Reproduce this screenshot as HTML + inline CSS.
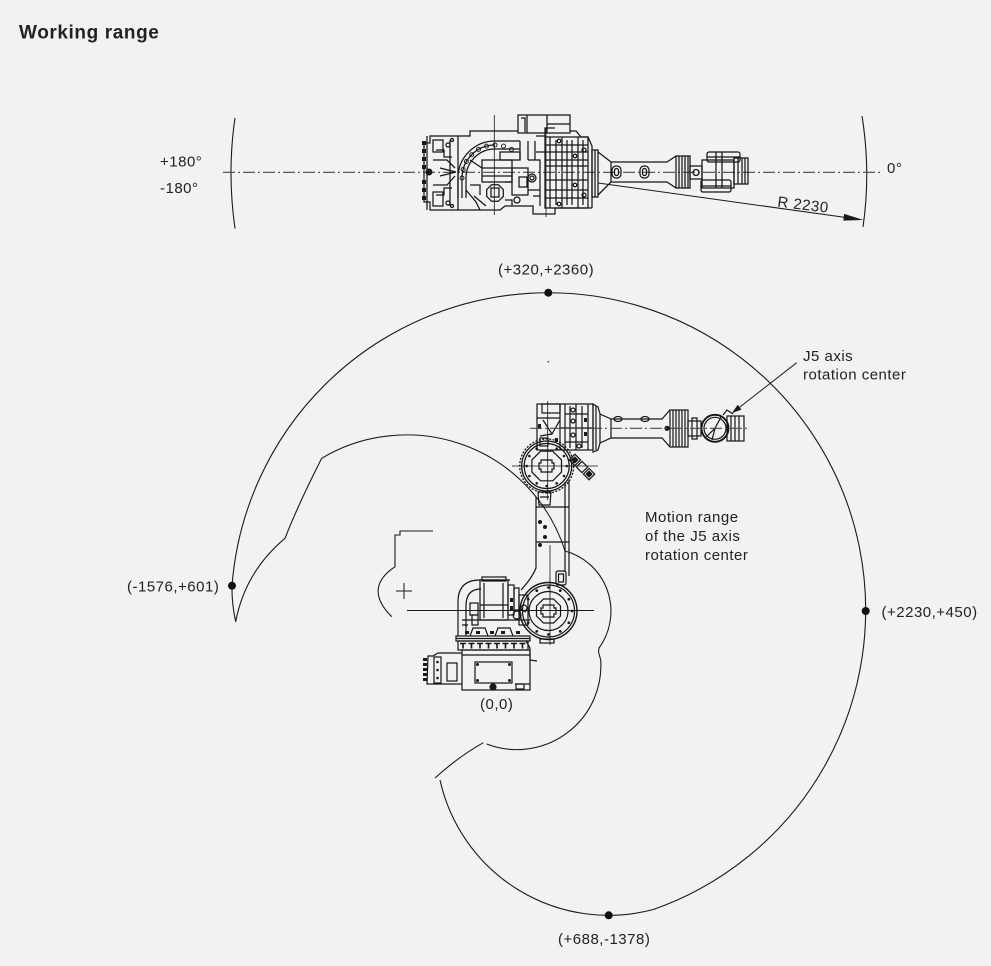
<!DOCTYPE html>
<html>
<head>
<meta charset="utf-8">
<style>
html,body{margin:0;padding:0;background:#f2f2f2;}
svg{display:block;}
text{font-family:"Liberation Sans",sans-serif;fill:#222;}
.lbl{font-size:15px;letter-spacing:0.5px;}
</style>
</head>
<body>
<svg width="991" height="966" viewBox="0 0 991 966" xmlns="http://www.w3.org/2000/svg">
<rect x="0" y="0" width="991" height="966" fill="#f2f2f2"/>

<!-- Title -->
<text x="19" y="38.5" font-size="19" font-weight="bold" letter-spacing="0.6" fill="#0d0d0d">Working range</text>

<!-- ============ TOP VIEW ============ -->
<g stroke="#1a1a1a" fill="none" stroke-width="1.1">
  <path d="M235 118 Q227 172.3 235 228.5"/>
  <path d="M862 116 Q871 172 863 227"/>
</g>
<line x1="223" y1="172.3" x2="882" y2="172.3" stroke="#4a4a4a" stroke-width="1.2" stroke-dasharray="12 3 2 3"/>

<g stroke="#151515" fill="none" stroke-width="1.25">
  <!-- left base block -->
  <path d="M430 136 L458 136 L458 210 L430 210 L430 202 L424 202 L424 143 L430 143 Z"/>
  <g fill="#1a1a1a" stroke="none">
    <rect x="422" y="141" width="4" height="4"/><rect x="422" y="149" width="4" height="4"/>
    <rect x="422" y="157" width="4" height="4"/><rect x="422" y="165" width="4" height="4"/>
    <rect x="422" y="180" width="4" height="4"/><rect x="422" y="188" width="4" height="4"/>
    <rect x="422" y="196" width="4" height="4"/>
    <circle cx="429" cy="172" r="3.5"/>
  </g>
  <rect x="433" y="140" width="10" height="12"/>
  <rect x="433" y="192" width="10" height="14"/>
  <path d="M433 160 L447 160 L455 168 M436 150 L444 150 L444 157 L452 157 M433 185 L447 185 L455 176 M440 176 L456 172 M440 168 L456 172 M436 195 L444 195 L444 188 L452 188 M427 136 L427 210 M450 140 L450 206"/>
  <circle cx="448" cy="145" r="2"/><circle cx="448" cy="203" r="2"/><circle cx="452" cy="140" r="1.5"/><circle cx="452" cy="206" r="1.5"/>

  <!-- arch -->
  <path d="M458 198 L458 178 A37 37 0 0 1 495 141 L520 141"/>
  <path d="M466 198 L466 178 A29 29 0 0 1 495 149 L520 149"/>
  <path d="M462 198 L462 178 A33 33 0 0 1 495 145"/>
  <path d="M466 190 L476 202 L480 210 M470 160 L482 168 M474 196 L486 206 M470 185 L480 185 L480 195"/>
  <g stroke-width="0.9">
    <circle cx="462" cy="178" r="2"/><circle cx="463.1" cy="169.5" r="2"/><circle cx="466.4" cy="161.5" r="2"/>
    <circle cx="471.7" cy="154.7" r="2"/><circle cx="478.5" cy="149.4" r="2"/><circle cx="486.5" cy="146.1" r="2"/>
    <circle cx="495" cy="145" r="2"/><circle cx="503.5" cy="146.1" r="2"/><circle cx="511.5" cy="149.4" r="2"/>
  </g>

  <!-- centre blocks -->
  <rect x="482" y="160" width="30" height="22"/>
  <line x1="482" y1="168" x2="512" y2="168"/>
  <line x1="482" y1="176" x2="512" y2="176"/>
  <polygon points="503.3,196.4 498.4,201.3 491.6,201.3 486.7,196.4 486.7,189.6 491.6,184.7 498.4,184.7 503.3,189.6"/>
  <rect x="491" y="188" width="8" height="9"/>
  <rect x="500" y="152" width="20" height="8"/>
  <rect x="512" y="168" width="16" height="27"/>
  <rect x="519" y="177" width="8" height="10"/>
  <circle cx="532" cy="178" r="4"/><circle cx="532" cy="178" r="2"/>
  <circle cx="517" cy="200" r="3"/>
  <path d="M505 182 L512 182 M505 200 L512 200 L512 206 M528 160 L540 160 L540 206 M528 190 L540 190 M533 196 L540 196 M520 141 L520 160 M528 141 L528 160 M535 141 L535 160"/>
  <!-- motor on top -->
  <rect x="518" y="115" width="52" height="18"/>
  <path d="M527 115 L527 133 M547 115 L547 133 M521 118 L525 118 L525 132 M547 124 L570 124"/>
  <!-- body outline -->
  <path d="M458 136 L470 136 L470 131 L518 131 M570 131 L576 131 L581 137 L588 137 L592 146 L592 208"/>
  <path d="M458 210 L500 210 L505 206 L533 206 L533 214 L555 214 L555 208 L592 208"/>
  <!-- right section -->
  <rect x="545" y="137" width="43" height="71"/>
  <path d="M550 137 L550 208 M556 140 L556 205 M562 137 L562 208 M567 140 L567 205 M572 140 L572 205 M578 137 L578 208 M583 140 L583 205"/>
  <path d="M545 145 L588 145 M545 152 L588 152 M545 160 L588 160 M545 166 L588 166 M545 180 L588 180 M545 190 L588 190 M545 198 L588 198"/>
  <circle cx="584" cy="150" r="2"/><circle cx="584" cy="195" r="2"/><circle cx="559" cy="141" r="1.8"/><circle cx="559" cy="204" r="1.8"/>
  <circle cx="575" cy="185" r="1.8"/><circle cx="575" cy="156" r="1.8"/>
  <path d="M536 152 L545 152 M536 136 L545 136 L545 128 L555 128"/>
  <!-- axis lines -->
  <line x1="494.3" y1="115" x2="494.3" y2="215" stroke-width="0.8"/>
  <line x1="546" y1="128" x2="546" y2="217" stroke-width="0.8"/>
  <!-- flange -->
  <rect x="592" y="150" width="6" height="47"/>
  <line x1="595" y1="150" x2="595" y2="197"/>
  <!-- forearm tube -->
  <path d="M598 152 L611 162 L667 162 L676 156 M598 195 L611 182 L667 182 L676 188 M611 162 L611 182"/>
  <rect x="612" y="166" width="9" height="12" rx="4"/><rect x="614.5" y="168.5" width="4" height="7" rx="2"/>
  <rect x="640" y="166" width="9" height="12" rx="4"/><rect x="642.5" y="168.5" width="4" height="7" rx="2"/>
  <rect x="676" y="156" width="14" height="32"/>
  <path d="M679 156 L679 188 M682 156 L682 188 M685 156 L685 188 M688 156 L688 188"/>
  <rect x="690" y="166" width="12" height="13"/>
  <circle cx="696" cy="172.5" r="3"/>
  <!-- wrist -->
  <rect x="702" y="160" width="32" height="28"/>
  <rect x="707" y="152" width="33" height="10" rx="2"/>
  <path d="M716 152 L716 188 M722 152 L722 188 M707 157 L740 157"/>
  <rect x="701" y="180" width="30" height="12" rx="2"/>
  <path d="M701 186 L731 186"/>
  <rect x="734" y="158" width="14" height="26"/>
  <path d="M738 158 L738 184 M742 158 L742 184 M745 158 L745 184"/>
</g>

<!-- R 2230 -->
<line x1="598" y1="183" x2="846" y2="217.5" stroke="#1a1a1a" stroke-width="1"/>
<polygon points="863.5,220 843.3,220.6 844.1,213.9" fill="#1a1a1a"/>
<text class="lbl" x="777" y="206.5" transform="rotate(7 777 206.5)">R 2230</text>

<text class="lbl" x="160" y="166.5">+180°</text>
<text class="lbl" x="160" y="193">-180°</text>
<text class="lbl" x="887" y="173">0°</text>

<!-- ============ SIDE VIEW ============ -->
<g stroke="#1a1a1a" fill="none" stroke-width="1.1">
  <path d="M235.7 621.7 Q231.6 603 232 585.7 A317.3 317.3 0 1 1 653.3 909.5 A172.8 172.8 0 0 1 440 780"/>
  <path d="M235.7 621.7 Q245 572 285 538.3 Q298 505 321.7 458.3 A166 166 0 0 1 565 551 A62.5 62.5 0 0 1 599 648 L598.5 652 L600.7 660 A84 84 0 0 1 486.7 744"/>
  <path d="M483.3 742.7 Q458 757 435 778"/>
  <path d="M433 531 L400 531 L400 535 L395 535 L395 566.7 Q363 588 391.7 616.7"/>
</g>
<g stroke="#1a1a1a" stroke-width="1">
  <path d="M396 591 L412 591 M404 583 L404 599"/>
  <path d="M407 610.5 L594 610.5"/>
</g>
<circle cx="548.3" cy="361.7" r="0.8" fill="#333"/>

<!-- Robot side view -->
<g stroke="#151515" fill="none" stroke-width="1.2">
  <!-- base -->
  <rect x="456" y="636" width="74" height="5"/>
  <line x1="456" y1="638.5" x2="530" y2="638.5"/>
  <rect x="458" y="641" width="70" height="9"/>
  <g stroke-width="1.6">
    <path d="M460 643.5 h6 M463 643.5 v5 M468.5 643.5 h6 M471.5 643.5 v5 M477 643.5 h6 M480 643.5 v5 M485.5 643.5 h6 M488.5 643.5 v5 M494 643.5 h6 M497 643.5 v5 M502.5 643.5 h6 M505.5 643.5 v5 M511 643.5 h6 M514 643.5 v5 M519.5 643.5 h6 M522.5 643.5 v5"/>
  </g>
  <rect x="462" y="650" width="68" height="40"/>
  <line x1="462" y1="655" x2="530" y2="655"/>
  <rect x="475" y="662" width="37" height="21"/>
  <g fill="#1a1a1a" stroke="none">
    <circle cx="477.5" cy="664.5" r="1.5"/><circle cx="509.5" cy="664.5" r="1.5"/>
    <circle cx="477.5" cy="680.5" r="1.5"/><circle cx="509.5" cy="680.5" r="1.5"/>
    <circle cx="437.5" cy="662" r="1.3"/><circle cx="437.5" cy="670" r="1.3"/><circle cx="437.5" cy="678" r="1.3"/>
    <rect x="423" y="658" width="4" height="3"/><rect x="423" y="663" width="4" height="3"/>
    <rect x="423" y="668" width="4" height="3"/><rect x="423" y="673" width="4" height="3"/>
    <rect x="423" y="678" width="4" height="3"/>
    <circle cx="493" cy="687" r="3.6"/>
  </g>
  <path d="M462 653 L438 653 L433 656 L428 656 L427 684 L462 684"/>
  <rect x="434" y="657" width="7" height="26"/>
  <rect x="447" y="663" width="10" height="18"/>
  <path d="M526 641 L530 648 L530 660 L537 661"/>
  <path d="M515 684 L530 684"/>
  <rect x="516" y="684" width="8" height="5"/>

  <!-- turret / motor -->
  <path d="M458 636 L458 602 Q458 580 480 580 L510 580"/>
  <path d="M466 636 L466 606 Q466 589 481 589"/>
  <rect x="480" y="580" width="28" height="40"/>
  <path d="M484 583 L484 618 M503 583 L503 618 M480 605 L508 605"/>
  <rect x="482" y="577" width="24" height="4"/>
  <rect x="508" y="585" width="6" height="30"/>
  <rect x="514" y="588" width="5" height="22"/>
  <circle cx="517" cy="615" r="4"/>
  <rect x="470" y="603" width="8" height="12"/>
  <rect x="472" y="615" width="6" height="10"/>
  <path d="M462 620 L530 620 M470 636 L473 628 L485 628 L488 636 M495 636 L498 628 L510 628 L513 636 M462 625 L468 625"/>
  <g fill="#1a1a1a" stroke="none">
    <rect x="465" y="631" width="4" height="3"/><rect x="476" y="631" width="4" height="3"/>
    <rect x="490" y="631" width="4" height="3"/><rect x="501" y="631" width="4" height="3"/>
    <rect x="516" y="631" width="4" height="3"/>
    <rect x="510" y="598" width="3" height="4"/><rect x="510" y="606" width="3" height="4"/>
  </g>
  <rect x="519" y="595" width="9" height="30"/>
  <circle cx="524" cy="608" r="3"/>

  <!-- J2 housing -->
  <circle cx="548.5" cy="611" r="28.5" stroke-width="1.4"/>
  <circle cx="548.5" cy="611" r="26"/>
  <circle cx="548.5" cy="611" r="19.5"/>
  <polygon points="560.5,616 553.5,623 543.5,623 536.5,616 536.5,606 543.5,599 553.5,599 560.5,606"/>
  <path d="M543 605 h11 v3 h2 v6 h-2 v3 h-11 v-3 h-2 v-6 h2 z"/>
  <g fill="#1a1a1a" stroke="none">
    <circle cx="572" cy="611" r="1.4"/><circle cx="568.85" cy="622.75" r="1.4"/><circle cx="560.25" cy="631.35" r="1.4"/>
    <circle cx="548.5" cy="634.5" r="1.4"/><circle cx="536.75" cy="631.35" r="1.4"/><circle cx="528.15" cy="622.75" r="1.4"/>
    <circle cx="525" cy="611" r="1.4"/><circle cx="528.15" cy="599.25" r="1.4"/><circle cx="536.75" cy="590.65" r="1.4"/>
    <circle cx="548.5" cy="587.5" r="1.4"/><circle cx="560.25" cy="590.65" r="1.4"/><circle cx="568.85" cy="599.25" r="1.4"/>
  </g>
  <rect x="556" y="571" width="10" height="14" rx="2"/>
  <rect x="558.5" y="574" width="5" height="8"/>
  <rect x="540" y="639" width="14" height="4"/>

  <!-- upper arm -->
  <path d="M536 497 L536 568 Q532 578 521 590"/>
  <path d="M569 480 L569 576 M565 482 L565 572"/>
  <path d="M536 507 L569 507 M536 542 L569 542"/>
  <g fill="#1a1a1a" stroke="none">
    <circle cx="540" cy="522" r="2"/><circle cx="545" cy="527" r="2"/>
    <circle cx="545" cy="537" r="2"/><circle cx="540" cy="545" r="2"/>
  </g>
  <line x1="550" y1="545" x2="550" y2="645" stroke-width="0.8"/>
  <path d="M538 492 L551 492 L550 505 L539 505 Z M540 497 L549 497"/>

  <!-- J3 housing -->
  <circle cx="546.7" cy="466" r="27" stroke-dasharray="2 1.5" stroke-width="1.3"/>
  <circle cx="546.7" cy="466" r="25" stroke-width="1.3"/>
  <circle cx="546.7" cy="466" r="22.5"/>
  <polygon points="561.5,472.1 552.8,480.8 540.6,480.8 531.9,472.1 531.9,459.9 540.6,451.2 552.8,451.2 561.5,459.9"/>
  <path d="M541 460 h11 v3 h2 v6 h-2 v3 h-11 v-3 h-2 v-6 h2 z"/>
  <g fill="#1a1a1a" stroke="none">
    <circle cx="566.7" cy="466" r="1.3"/><circle cx="564" cy="476" r="1.3"/><circle cx="556.7" cy="483.3" r="1.3"/>
    <circle cx="546.7" cy="486" r="1.3"/><circle cx="536.7" cy="483.3" r="1.3"/><circle cx="529.4" cy="476" r="1.3"/>
    <circle cx="526.7" cy="466" r="1.3"/><circle cx="529.4" cy="456" r="1.3"/><circle cx="536.7" cy="448.7" r="1.3"/>
    <circle cx="556.7" cy="448.7" r="1.3"/><circle cx="564" cy="456" r="1.3"/>
  </g>
  <line x1="512" y1="466" x2="598" y2="466" stroke-width="0.8"/>
  <line x1="547.7" y1="401" x2="547.7" y2="500" stroke-width="0.8"/>
  <g transform="rotate(45 582 467)">
    <rect x="568" y="463" width="8" height="8"/>
    <rect x="578" y="463" width="8" height="8"/>
    <rect x="588" y="463" width="8" height="8"/>
    <rect x="570" y="465" width="4" height="4" fill="#1a1a1a"/>
    <rect x="590" y="465" width="4" height="4" fill="#1a1a1a"/>
  </g>

  <!-- forearm rear housing -->
  <rect x="537" y="404" width="56" height="46"/>
  <rect x="542" y="404" width="18" height="9"/>
  <path d="M537 418 L560 418 M543 420 L552 434 L560 420 M540 436 L552 434 M560 404 L560 450 M565 404 L565 450 M570 406 L570 448 M576 404 L576 450 M582 406 L582 448 M588 404 L588 450 M560 428 L593 428 M565 414 L588 414 M565 442 L588 442"/>
  <rect x="540" y="438" width="8" height="8"/>
  <circle cx="573" cy="410" r="2"/><circle cx="573" cy="421" r="2"/><circle cx="573" cy="435" r="2"/><circle cx="579" cy="446" r="2"/>
  <g fill="#1a1a1a" stroke="none">
    <rect x="538" y="424" width="3" height="5"/><rect x="555" y="438" width="3" height="4"/>
    <rect x="584" y="418" width="3" height="4"/><rect x="584" y="432" width="3" height="4"/>
  </g>
  <!-- flange -->
  <path d="M593 404 L598 407 L600 414 L600 443 L598 450 L593 452 Z M596 406 L596 450"/>
  <!-- tube -->
  <path d="M600 414 L611 419 L662 419 L670 410 M600 443 L611 438 L662 438 L670 447 M611 419 L611 438"/>
  <ellipse cx="618" cy="419" rx="4" ry="2.5"/><ellipse cx="645" cy="419" rx="4" ry="2.5"/>
  <rect x="670" y="410" width="18" height="37"/>
  <path d="M673 410 L673 447 M676 410 L676 447 M679 410 L679 447 M682 410 L682 447 M685 410 L685 447"/>
  <circle cx="667" cy="428.3" r="2" fill="#1a1a1a"/>
  <rect x="688" y="421" width="13" height="15"/>
  <rect x="692" y="418" width="5" height="21"/>
  <!-- wrist -->
  <circle cx="715" cy="428.3" r="13.5" stroke-width="1.9"/>
  <circle cx="715" cy="428.3" r="11"/>
  <path d="M715 428.3 L706 437 M715 428.3 L721 417 M715 428.3 L712 440"/>
  <rect x="727" y="416" width="17" height="25"/>
  <path d="M731 416 L731 441 M735 416 L735 441 M739 416 L739 441 M723 415 L727 410 L733 414"/>
</g>
<line x1="530" y1="428.3" x2="748" y2="428.3" stroke="#4a4a4a" stroke-width="1.2" stroke-dasharray="12 3 2 3"/>

<!-- J5 leader -->
<line x1="796.7" y1="362.7" x2="738" y2="408.5" stroke="#1a1a1a" stroke-width="1"/>
<polygon points="731.7,413.3 741.4,409.6 737.8,404.8" fill="#1a1a1a"/>

<!-- dots -->
<g fill="#111">
  <circle cx="548.3" cy="292.7" r="4"/>
  <circle cx="232" cy="585.7" r="4"/>
  <circle cx="865.7" cy="611" r="4"/>
  <circle cx="608.7" cy="915.3" r="4"/>
</g>

<!-- labels -->
<text class="lbl" x="498" y="274.5">(+320,+2360)</text>
<text class="lbl" x="803" y="361">J5 axis</text>
<text class="lbl" x="803" y="379.5">rotation center</text>
<text class="lbl" x="645" y="522">Motion range</text>
<text class="lbl" x="645" y="541">of the J5 axis</text>
<text class="lbl" x="645" y="560">rotation center</text>
<text class="lbl" x="127" y="591.5">(-1576,+601)</text>
<text class="lbl" x="881.5" y="617">(+2230,+450)</text>
<text class="lbl" x="480" y="709">(0,0)</text>
<text class="lbl" x="558" y="944">(+688,-1378)</text>
</svg>
</body>
</html>
